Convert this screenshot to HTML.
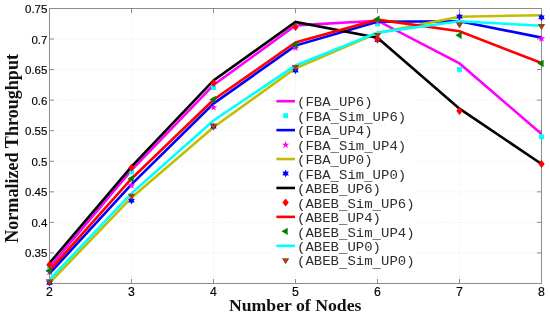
<!DOCTYPE html>
<html><head><meta charset="utf-8"><title>Normalized Throughput</title>
<style>html,body{margin:0;padding:0;background:#fff}svg{display:block}text{font-family:"Liberation Sans",sans-serif}.m{font-family:"Liberation Mono",monospace;font-size:14px;fill:#2e2e2e}.b{font-family:"Liberation Serif",serif;font-weight:bold;fill:#111}.t{font-size:12.3px;fill:#000;stroke:#000;stroke-width:0.15px}</style></head><body>
<svg width="550" height="315" viewBox="0 0 550 315">
<rect width="550" height="315" fill="#fff"/>
<path d="M131.50 8.50V283.50M213.50 8.50V283.50M295.50 8.50V283.50M377.50 8.50V283.50M459.50 8.50V283.50M49.50 39.06H541.50M49.50 69.61H541.50M49.50 100.17H541.50M49.50 130.72H541.50M49.50 161.28H541.50M49.50 191.83H541.50M49.50 222.39H541.50M49.50 252.94H541.50" stroke="#dcdcdc" stroke-width="0.65" stroke-dasharray="0.9 1.8" fill="none"/>
<rect x="49.50" y="8.50" width="492.00" height="275.00" fill="none" stroke="#8c8c8c" stroke-width="1"/>
<path d="M49.50 283.50v-4.5M49.50 8.50v4.5M131.50 283.50v-4.5M131.50 8.50v4.5M213.50 283.50v-4.5M213.50 8.50v4.5M295.50 283.50v-4.5M295.50 8.50v4.5M377.50 283.50v-4.5M377.50 8.50v4.5M459.50 283.50v-4.5M459.50 8.50v4.5M541.50 283.50v-4.5M541.50 8.50v4.5M49.50 8.50h4.5M541.50 8.50h-4.5M49.50 39.06h4.5M541.50 39.06h-4.5M49.50 69.61h4.5M541.50 69.61h-4.5M49.50 100.17h4.5M541.50 100.17h-4.5M49.50 130.72h4.5M541.50 130.72h-4.5M49.50 161.28h4.5M541.50 161.28h-4.5M49.50 191.83h4.5M541.50 191.83h-4.5M49.50 222.39h4.5M541.50 222.39h-4.5M49.50 252.94h4.5M541.50 252.94h-4.5M49.50 283.50h4.5M541.50 283.50h-4.5" stroke="#8c8c8c" stroke-width="1" fill="none"/>
<text class="t" style="font-size:11.5px" x="47.4" y="13.00" text-anchor="end">0.75</text>
<text class="t" style="font-size:11.5px" x="47.4" y="43.56" text-anchor="end">0.7</text>
<text class="t" style="font-size:11.5px" x="47.4" y="74.11" text-anchor="end">0.65</text>
<text class="t" style="font-size:11.5px" x="47.4" y="104.67" text-anchor="end">0.6</text>
<text class="t" style="font-size:11.5px" x="47.4" y="135.22" text-anchor="end">0.55</text>
<text class="t" style="font-size:11.5px" x="47.4" y="165.78" text-anchor="end">0.5</text>
<text class="t" style="font-size:11.5px" x="47.4" y="196.33" text-anchor="end">0.45</text>
<text class="t" style="font-size:11.5px" x="47.4" y="226.89" text-anchor="end">0.4</text>
<text class="t" style="font-size:11.5px" x="47.4" y="257.44" text-anchor="end">0.35</text>
<text class="t" x="49.50" y="296.2" text-anchor="middle">2</text>
<text class="t" x="131.50" y="296.2" text-anchor="middle">3</text>
<text class="t" x="213.50" y="296.2" text-anchor="middle">4</text>
<text class="t" x="295.50" y="296.2" text-anchor="middle">5</text>
<text class="t" x="377.50" y="296.2" text-anchor="middle">6</text>
<text class="t" x="459.50" y="296.2" text-anchor="middle">7</text>
<text class="t" x="541.50" y="296.2" text-anchor="middle">8</text>
<g clip-path="none">
<polyline points="49.50,267.30 131.50,170.10 213.50,85.00 295.50,25.40 377.50,20.70 459.50,63.40 541.50,134.00" fill="none" stroke="#ff00ff" stroke-width="2.6" stroke-linejoin="miter"/>
<g><rect x="47.05" y="264.05" width="4.90" height="4.90" fill="#00ffff"/><rect x="129.05" y="169.45" width="4.90" height="4.90" fill="#00ffff"/><rect x="211.05" y="85.15" width="4.90" height="4.90" fill="#00ffff"/><rect x="293.05" y="22.85" width="4.90" height="4.90" fill="#00ffff"/><rect x="375.05" y="21.55" width="4.90" height="4.90" fill="#00ffff"/><rect x="457.05" y="67.05" width="4.90" height="4.90" fill="#00ffff"/><rect x="539.05" y="134.35" width="4.90" height="4.90" fill="#00ffff"/></g>
<polyline points="49.50,273.70 131.50,184.30 213.50,103.60 295.50,45.60 377.50,21.80 459.50,21.30 541.50,37.60" fill="none" stroke="#0000ff" stroke-width="2.6" stroke-linejoin="miter"/>
<g><polygon points="49.50,268.15 50.41,270.85 53.26,270.88 50.97,272.58 51.82,275.30 49.50,273.65 47.18,275.30 48.03,272.58 45.74,270.88 48.59,270.85" fill="#ff00ff"/><polygon points="131.50,181.65 132.41,184.35 135.26,184.38 132.97,186.08 133.82,188.80 131.50,187.15 129.18,188.80 130.03,186.08 127.74,184.38 130.59,184.35" fill="#ff00ff"/><polygon points="213.50,103.45 214.41,106.15 217.26,106.18 214.97,107.88 215.82,110.60 213.50,108.95 211.18,110.60 212.03,107.88 209.74,106.18 212.59,106.15" fill="#ff00ff"/><polygon points="295.50,43.95 296.41,46.65 299.26,46.68 296.97,48.38 297.82,51.10 295.50,49.45 293.18,51.10 294.03,48.38 291.74,46.68 294.59,46.65" fill="#ff00ff"/><polygon points="377.50,17.35 378.41,20.05 381.26,20.08 378.97,21.78 379.82,24.50 377.50,22.85 375.18,24.50 376.03,21.78 373.74,20.08 376.59,20.05" fill="#ff00ff"/><polygon points="459.50,17.35 460.41,20.05 463.26,20.08 460.97,21.78 461.82,24.50 459.50,22.85 457.18,24.50 458.03,21.78 455.74,20.08 458.59,20.05" fill="#ff00ff"/><polygon points="541.50,34.65 542.41,37.35 545.26,37.38 542.97,39.08 543.82,41.80 541.50,40.15 539.18,41.80 540.03,39.08 537.74,37.38 540.59,37.35" fill="#ff00ff"/></g>
<polyline points="49.50,282.80 131.50,197.70 213.50,127.20 295.50,68.20 377.50,33.00 459.50,16.70 541.50,15.20" fill="none" stroke="#bfbf00" stroke-width="2.6" stroke-linejoin="miter"/>
<g><polygon points="49.50,279.05 50.58,280.94 52.75,280.93 51.65,282.80 52.75,284.68 50.58,284.66 49.50,286.55 48.42,284.66 46.25,284.68 47.35,282.80 46.25,280.93 48.42,280.94" fill="#0000ff"/><polygon points="131.50,196.95 132.57,198.84 134.75,198.82 133.65,200.70 134.75,202.57 132.57,202.56 131.50,204.45 130.43,202.56 128.25,202.57 129.35,200.70 128.25,198.82 130.43,198.84" fill="#0000ff"/><polygon points="213.50,122.95 214.57,124.84 216.75,124.83 215.65,126.70 216.75,128.57 214.57,128.56 213.50,130.45 212.43,128.56 210.25,128.57 211.35,126.70 210.25,124.83 212.43,124.84" fill="#0000ff"/><polygon points="295.50,66.75 296.57,68.64 298.75,68.62 297.65,70.50 298.75,72.38 296.57,72.36 295.50,74.25 294.43,72.36 292.25,72.38 293.35,70.50 292.25,68.62 294.43,68.64" fill="#0000ff"/><polygon points="377.50,36.25 378.57,38.14 380.75,38.12 379.65,40.00 380.75,41.88 378.57,41.86 377.50,43.75 376.43,41.86 374.25,41.88 375.35,40.00 374.25,38.12 376.43,38.14" fill="#0000ff"/><polygon points="459.50,12.95 460.57,14.84 462.75,14.82 461.65,16.70 462.75,18.57 460.57,18.56 459.50,20.45 458.43,18.56 456.25,18.57 457.35,16.70 456.25,14.82 458.43,14.84" fill="#0000ff"/><polygon points="541.50,13.55 542.58,15.44 544.75,15.43 543.65,17.30 544.75,19.18 542.58,19.16 541.50,21.05 540.42,19.16 538.25,19.18 539.35,17.30 538.25,15.43 540.42,15.44" fill="#0000ff"/></g>
<polyline points="49.50,263.10 131.50,166.60 213.50,80.40 295.50,22.00 377.50,37.80 459.50,108.70 541.50,164.00" fill="none" stroke="#000000" stroke-width="2.6" stroke-linejoin="miter"/>
<g><polygon points="49.50,260.80 52.70,264.80 49.50,268.80 46.30,264.80" fill="#ff0000"/><polygon points="131.50,163.70 134.70,167.70 131.50,171.70 128.30,167.70" fill="#ff0000"/><polygon points="213.50,78.90 216.70,82.90 213.50,86.90 210.30,82.90" fill="#ff0000"/><polygon points="295.50,23.10 298.70,27.10 295.50,31.10 292.30,27.10" fill="#ff0000"/><polygon points="377.50,34.90 380.70,38.90 377.50,42.90 374.30,38.90" fill="#ff0000"/><polygon points="459.50,106.90 462.70,110.90 459.50,114.90 456.30,110.90" fill="#ff0000"/><polygon points="541.50,160.00 544.70,164.00 541.50,168.00 538.30,164.00" fill="#ff0000"/></g>
<polyline points="49.50,270.60 131.50,178.70 213.50,99.80 295.50,42.50 377.50,19.70 459.50,31.30 541.50,63.00" fill="none" stroke="#ff0000" stroke-width="2.6" stroke-linejoin="miter"/>
<g><polygon points="45.40,270.80 51.60,267.10 51.60,274.50" fill="#007f00"/><polygon points="127.40,178.80 133.60,175.10 133.60,182.50" fill="#007f00"/><polygon points="209.40,99.40 215.60,95.70 215.60,103.10" fill="#007f00"/><polygon points="291.40,44.80 297.60,41.10 297.60,48.50" fill="#007f00"/><polygon points="373.40,19.30 379.60,15.60 379.60,23.00" fill="#007f00"/><polygon points="455.40,35.20 461.60,31.50 461.60,38.90" fill="#007f00"/><polygon points="537.40,63.50 543.60,59.80 543.60,67.20" fill="#007f00"/></g>
<polyline points="49.50,279.70 131.50,193.40 213.50,120.50 295.50,65.50 377.50,32.60 459.50,21.25 541.50,25.80" fill="none" stroke="#00ffff" stroke-width="2.6" stroke-linejoin="miter"/>
<g><polygon points="49.50,285.50 45.80,279.30 53.20,279.30" fill="#a0401a"/><polygon points="131.50,199.90 127.80,193.70 135.20,193.70" fill="#a0401a"/><polygon points="213.50,129.80 209.80,123.60 217.20,123.60" fill="#a0401a"/><polygon points="295.50,71.10 291.80,64.90 299.20,64.90" fill="#a0401a"/><polygon points="377.50,39.30 373.80,33.10 381.20,33.10" fill="#a0401a"/><polygon points="459.50,28.60 455.80,22.40 463.20,22.40" fill="#a0401a"/><polygon points="541.50,30.30 537.80,24.10 545.20,24.10" fill="#a0401a"/></g>
</g>
<rect x="272.5" y="93.5" width="143.5" height="175" fill="#fff"/>
<line x1="276.4" x2="295" y1="101.20" y2="101.20" stroke="#ff00ff" stroke-width="2.6"/>
<text class="m" transform="translate(297.0 106.40) scale(1 0.86)">(FBA<tspan dy="1.4">_</tspan><tspan dy="-1.4">UP6)</tspan></text>
<rect x="283.15" y="113.21" width="4.90" height="4.90" fill="#00ffff"/>
<text class="m" transform="translate(297.0 120.86) scale(1 0.86)">(FBA<tspan dy="1.4">_</tspan><tspan dy="-1.4">Sim</tspan><tspan dy="1.4">_</tspan><tspan dy="-1.4">UP6)</tspan></text>
<line x1="276.4" x2="295" y1="130.12" y2="130.12" stroke="#0000ff" stroke-width="2.6"/>
<text class="m" transform="translate(297.0 135.32) scale(1 0.86)">(FBA<tspan dy="1.4">_</tspan><tspan dy="-1.4">UP4)</tspan></text>
<polygon points="285.60,140.93 286.51,143.63 289.36,143.66 287.07,145.36 287.92,148.08 285.60,146.43 283.28,148.08 284.13,145.36 281.84,143.66 284.69,143.63" fill="#ff00ff"/>
<text class="m" transform="translate(297.0 149.78) scale(1 0.86)">(FBA<tspan dy="1.4">_</tspan><tspan dy="-1.4">Sim</tspan><tspan dy="1.4">_</tspan><tspan dy="-1.4">UP4)</tspan></text>
<line x1="276.4" x2="295" y1="159.04" y2="159.04" stroke="#bfbf00" stroke-width="2.6"/>
<text class="m" transform="translate(297.0 164.24) scale(1 0.86)">(FBA<tspan dy="1.4">_</tspan><tspan dy="-1.4">UP0)</tspan></text>
<polygon points="285.60,169.75 286.68,171.64 288.85,171.62 287.75,173.50 288.85,175.38 286.68,175.36 285.60,177.25 284.53,175.36 282.35,175.38 283.45,173.50 282.35,171.62 284.53,171.64" fill="#0000ff"/>
<text class="m" transform="translate(297.0 178.70) scale(1 0.86)">(FBA<tspan dy="1.4">_</tspan><tspan dy="-1.4">Sim</tspan><tspan dy="1.4">_</tspan><tspan dy="-1.4">UP0)</tspan></text>
<line x1="276.4" x2="295" y1="187.96" y2="187.96" stroke="#000000" stroke-width="2.6"/>
<text class="m" transform="translate(297.0 193.16) scale(1 0.86)">(ABEB<tspan dy="1.4">_</tspan><tspan dy="-1.4">UP6)</tspan></text>
<polygon points="285.60,198.42 288.80,202.42 285.60,206.42 282.40,202.42" fill="#ff0000"/>
<text class="m" transform="translate(297.0 207.62) scale(1 0.86)">(ABEB<tspan dy="1.4">_</tspan><tspan dy="-1.4">Sim</tspan><tspan dy="1.4">_</tspan><tspan dy="-1.4">UP6)</tspan></text>
<line x1="276.4" x2="295" y1="216.88" y2="216.88" stroke="#ff0000" stroke-width="2.6"/>
<text class="m" transform="translate(297.0 222.08) scale(1 0.86)">(ABEB<tspan dy="1.4">_</tspan><tspan dy="-1.4">UP4)</tspan></text>
<polygon points="281.50,231.34 287.70,227.64 287.70,235.04" fill="#007f00"/>
<text class="m" transform="translate(297.0 236.54) scale(1 0.86)">(ABEB<tspan dy="1.4">_</tspan><tspan dy="-1.4">Sim</tspan><tspan dy="1.4">_</tspan><tspan dy="-1.4">UP4)</tspan></text>
<line x1="276.4" x2="295" y1="245.80" y2="245.80" stroke="#00ffff" stroke-width="2.6"/>
<text class="m" transform="translate(297.0 251.00) scale(1 0.86)">(ABEB<tspan dy="1.4">_</tspan><tspan dy="-1.4">UP0)</tspan></text>
<polygon points="285.60,264.36 281.90,258.16 289.30,258.16" fill="#a0401a"/>
<text class="m" transform="translate(297.0 265.46) scale(1 0.86)">(ABEB<tspan dy="1.4">_</tspan><tspan dy="-1.4">Sim</tspan><tspan dy="1.4">_</tspan><tspan dy="-1.4">UP0)</tspan></text>
<text class="b" transform="translate(295.2 311) scale(1.018 1)" font-size="17.4" text-anchor="middle">Number of Nodes</text>
<text class="b" transform="translate(18.4 148.4) rotate(-90)" font-size="18.1" text-anchor="middle">Normalized Throughput</text>
</svg></body></html>
